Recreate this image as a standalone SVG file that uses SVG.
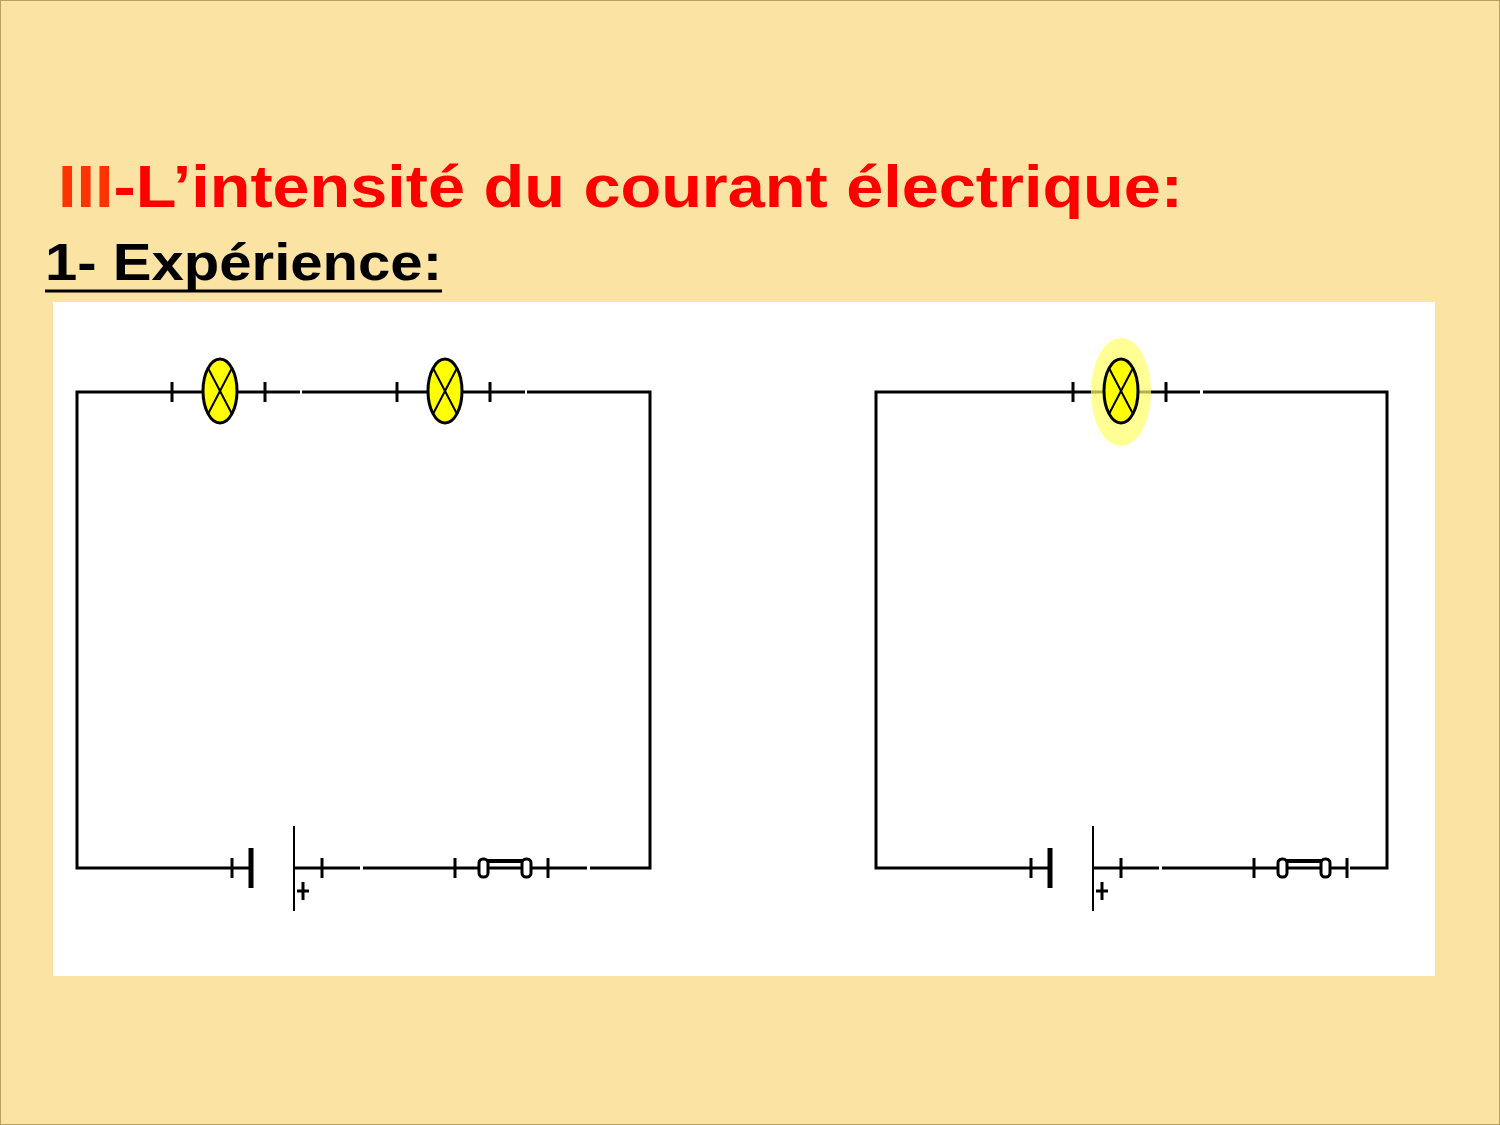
<svg xmlns="http://www.w3.org/2000/svg" width="1500" height="1125" viewBox="0 0 1500 1125">
<style>
.w{stroke:#000;stroke-width:3;fill:none}
.t{stroke:#000;stroke-width:3}
.lamp{fill:#ffff00;stroke:#000;stroke-width:3}
.x{stroke:#000;stroke-width:2}
.sw{fill:#fff;stroke:#000;stroke-width:3}
</style>
<defs>
<g id="lampsym">
<ellipse class="lamp" cx="0" cy="0" rx="17" ry="32"/>
<line class="x" x1="-12" y1="-23" x2="12" y2="23"/>
<line class="x" x1="12" y1="-23" x2="-12" y2="23"/>
</g>
</defs>
<rect x="0.5" y="0.5" width="1499" height="1124" fill="#fae3a3" stroke="#b8a060"/>
<text x="58" y="207" textLength="1125" lengthAdjust="spacingAndGlyphs" font-family="Liberation Sans, Arial, sans-serif" font-weight="bold" font-size="60" fill="#ff0000"><tspan fill="#ff3300">III</tspan>-L’intensité du courant électrique:</text>
<text x="45" y="280" textLength="397" lengthAdjust="spacingAndGlyphs" font-family="Liberation Sans, Arial, sans-serif" font-weight="bold" font-size="52" fill="#000">1- Expérience:</text>
<line x1="45" y1="291" x2="442" y2="291" stroke="#000" stroke-width="3"/>
<rect x="53" y="302" width="1382" height="674" fill="#fff"/>
<g id="connectors">
<path class="w" d="M300 392H77V868H250"/>
<path class="w" d="M302 392H525M527 392H650V868H590M587 868H363M360 868H294"/>
<path class="w" d="M1200 392H876V868H1049"/>
<path class="w" d="M1203 392H1387V868H1350M1347 868H1162M1159 868H1093"/>
</g>
<g id="circuit1">
<g id="lamp1"><use href="#lampsym" x="220" y="391"/></g>
<g id="lamp2"><use href="#lampsym" x="445" y="391"/></g>
<line class="t" x1="172" y1="382" x2="172" y2="402"/>
<line class="t" x1="265" y1="382" x2="265" y2="402"/>
<line class="t" x1="397" y1="382" x2="397" y2="402"/>
<line class="t" x1="490" y1="382" x2="490" y2="402"/>
<g id="battery1">
<line class="t" x1="232" y1="858" x2="232" y2="878"/>
<line x1="251" y1="848" x2="251" y2="888" stroke="#000" stroke-width="5"/>
<line x1="294" y1="826" x2="294" y2="911" stroke="#000" stroke-width="2"/>
<line class="t" x1="322" y1="858" x2="322" y2="878"/>
<path d="M303 882V900M297 891H309" stroke="#000" stroke-width="3"/>
</g>
<g id="switch1">
<line class="t" x1="455" y1="858" x2="455" y2="878"/>
<line class="t" x1="548" y1="858" x2="548" y2="878"/>
<line x1="488" y1="861" x2="522" y2="861" stroke="#000" stroke-width="4"/>
<rect class="sw" x="479" y="859" width="9" height="18" rx="4"/>
<rect class="sw" x="522" y="859" width="9" height="18" rx="4"/>
</g>
</g>
<g id="circuit2">
<g id="lamp3">
<ellipse cx="1121" cy="392" rx="30" ry="54" fill="#ffff66" opacity="0.7"/>
<use href="#lampsym" x="1121" y="391"/>
</g>
<line class="t" x1="1073" y1="382" x2="1073" y2="402"/>
<line class="t" x1="1166" y1="382" x2="1166" y2="402"/>
<g id="battery2">
<line class="t" x1="1031" y1="858" x2="1031" y2="878"/>
<line x1="1050" y1="848" x2="1050" y2="888" stroke="#000" stroke-width="5"/>
<line x1="1093" y1="826" x2="1093" y2="911" stroke="#000" stroke-width="2"/>
<line class="t" x1="1121" y1="858" x2="1121" y2="878"/>
<path d="M1102 882V900M1096 891H1108" stroke="#000" stroke-width="3"/>
</g>
<g id="switch2">
<line class="t" x1="1254" y1="858" x2="1254" y2="878"/>
<line class="t" x1="1347" y1="858" x2="1347" y2="878"/>
<line x1="1287" y1="861" x2="1321" y2="861" stroke="#000" stroke-width="4"/>
<rect class="sw" x="1278" y="859" width="9" height="18" rx="4"/>
<rect class="sw" x="1321" y="859" width="9" height="18" rx="4"/>
</g>
</g>
</svg>
